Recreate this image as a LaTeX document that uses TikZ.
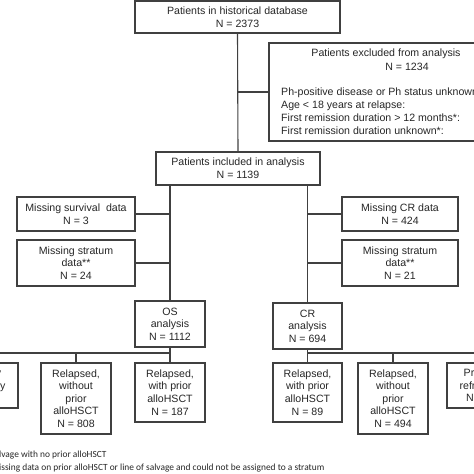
\documentclass[tikz,border=0pt]{standalone}
\usepackage{fontspec}
\setmainfont{Liberation Sans}
\newfontfamily\notefont{Carlito}
\usetikzlibrary{positioning}

\begin{document}
\begin{tikzpicture}[
x=1pt, y=-1pt,
box/.style={
	draw=black!75, line width=1.1pt,
	rectangle, align=center, inner sep=0pt,
	font=\fontsize{10.6}{12.6}\selectfont, text=black!85
},
txt/.style={inner sep=0pt, font=\fontsize{10.6}{13}\selectfont, text=black!85},
link/.style={draw=black!75, line width=1.1pt},
note/.style={inner sep=0pt, anchor=west, font=\notefont\fontsize{9.4}{10}\selectfont, text=black!85}
]
\useasboundingbox (0,0) rectangle (474,474);
\clip (0,0) rectangle (474,474);
% top of the chart
\node[box, minimum width=205pt, minimum height=32pt] (hist) at (237.5,17) {Patients in historical database\\N = 2373};
\node[box, minimum width=251pt, minimum height=98pt] (excl) at (394.5,92) {};
\node[txt] (excltitle) at (386,54) {Patients excluded from analysis};
\node[txt] (excln) at (407,67) {N = 1234};
\node[txt, anchor=west, align=left] (excllist) at (281,111.5) {Ph-positive disease or Ph status unknown:\\Age < 18 years at relapse:\\First remission duration > 12 months*:\\First remission duration unknown*:};
\node[box, minimum width=164pt, minimum height=33pt] (incl) at (238,168.5) {Patients included in analysis\\N = 1139};
% missing data
\node[box, minimum width=118pt, minimum height=34pt] (misssurv) at (76,214) {Missing survival\ \ data\\N = 3};
\node[box, minimum width=118pt, minimum height=46pt] (missstratos) at (76,263) {Missing stratum\\data**\\N = 24};
\node[box, minimum width=116pt, minimum height=34pt] (misscr) at (400,214) {Missing CR data\\N = 424};
\node[box, minimum width=116pt, minimum height=46pt] (missstratcr) at (400,263) {Missing stratum\\data**\\N = 21};
% analyses
\node[box, minimum width=70pt, minimum height=46pt] (os) at (170,324) {OS\\analysis\\N = 1112};
\node[box, minimum width=69pt, minimum height=46pt] (cr) at (307.5,326) {CR\\analysis\\N = 694};
% strata
\node[box, minimum width=70pt, minimum height=45pt] (primos) at (-17,385.5) {Primary\\refractory\\N = \phantom{00}};
\node[box, minimum width=70pt, minimum height=71pt] (nopriros) at (76,398.5) {Relapsed,\\without\\prior\\alloHSCT\\N = 808};
\node[box, minimum width=70pt, minimum height=59pt] (priros) at (170,392.5) {Relapsed,\\with prior\\alloHSCT\\N = 187};
\node[box, minimum width=69pt, minimum height=59pt] (prircr) at (307.5,392.5) {Relapsed,\\with prior\\alloHSCT\\N = 89};
\node[box, minimum width=70pt, minimum height=71pt] (noprircr) at (393,398.5) {Relapsed,\\without\\prior\\alloHSCT\\N = 494};
\node[box, minimum width=70pt, minimum height=45pt] (primcr) at (482,385.5) {Primary\\refractory\\N = \phantom{00}};
\coordinate (osbar) at (170,353);
\coordinate (crbar) at (307.5,353);
% connectors
\draw[link] (hist.south) -- (incl.north);
\draw[link] (hist.south |- excl.west) -- (excl.west);
\draw[link] (os.north |- incl.south) -- (os.north);
\draw[link] (cr.north |- incl.south) -- (cr.north);
\draw[link] (misssurv.east) -- (misssurv.east -| os.north);
\draw[link] (missstratos.east) -- (missstratos.east -| os.north);
\draw[link] (misscr.west) -- (misscr.west -| cr.north);
\draw[link] (missstratcr.west) -- (missstratcr.west -| cr.north);
\draw[link] (os.south) -- (osbar);
\draw[link] (primos.north |- osbar) -- (osbar);
\draw[link] (primos.north |- osbar) -- (primos.north);
\draw[link] (nopriros.north |- osbar) -- (nopriros.north);
\draw[link] (osbar) -- (priros.north);
\draw[link] (cr.south) -- (crbar);
\draw[link] (crbar) -- (primcr.north |- crbar);
\draw[link] (crbar) -- (prircr.north);
\draw[link] (noprircr.north |- crbar) -- (noprircr.north);
\draw[link] (primcr.north |- crbar) -- (primcr.north);
% footnotes
\node[note] (note1) at (-1,455) {lvage with no prior alloHSCT};
\node[note] (note2) at (-1,468) {issing data on prior alloHSCT or line of salvage and could not be assigned to a stratum};
\end{tikzpicture}
\end{document}
